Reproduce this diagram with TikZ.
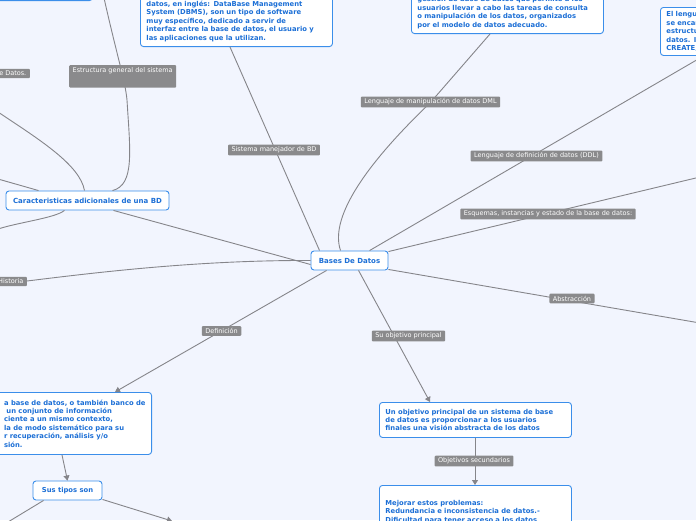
\documentclass[tikz,border=0pt]{standalone}
\usepackage{fontspec}
\setmainfont{DejaVu Sans}
\usetikzlibrary{arrows.meta}
\definecolor{bg}{HTML}{F2F5FE}
\definecolor{bord}{HTML}{3B8EEA}
\definecolor{txt}{HTML}{1C6FD6}
\definecolor{lab}{HTML}{8A8A8C}
\definecolor{ln}{HTML}{85858A}
\tikzset{
  box/.style={draw=bord,line width=0.9pt,fill=white,rounded corners=3pt,text=txt,font=\fontsize{6.8}{8.4}\selectfont\bfseries,align=left,inner xsep=6pt,inner ysep=4pt},
  lbl/.style={fill=lab,text=white,font=\fontsize{6.5}{7.5}\selectfont,inner xsep=3.5pt,inner ysep=2.2pt,rounded corners=1pt},
  con/.style={draw=ln,line width=0.9pt},
  arr/.style={con,-{Triangle[width=6pt,length=5pt]}}
}
\begin{document}
\begin{tikzpicture}[x=1pt,y=-1pt]
\useasboundingbox (0,0) rectangle (696,520);
\fill[bg] (0,0) rectangle (696,520);
\clip (0,0) rectangle (696,520);
\node[box,anchor=south west,text width=180pt,inner ysep=5pt] (dbms) at (140,47) {\mbox{}\\\mbox{}\\datos, en inglés: DataBase Management\\System (DBMS), son un tipo de software\\muy específico, dedicado a servir de\\interfaz entre la base de datos, el usuario y\\las aplicaciones que la utilizan.};
\node[box,anchor=south west,text width=180pt,inner ysep=5pt] (dml) at (411,34) {\mbox{}\\gestión de base de datos que permite a los\\usuarios llevar a cabo las tareas de consulta\\o manipulación de los datos, organizados\\por el modelo de datos adecuado.};
\node[box,anchor=north west,text width=160pt] (ddl) at (660,7) {El lenguaje de definición de datos\\se encarga de la modificación de la\\estructura de los objetos de la base de\\datos. Incluye órdenes para modificar,\\CREATE, ALTER, DROP};
\node[box,anchor=south west,text width=260pt,minimum height=20pt] (tl) at (-180,1) {};
\node[box,font=\fontsize{7}{8}\selectfont\bfseries,minimum width=77pt,minimum height=19pt,align=center] (bd) at (349.5,260.5) {Bases De Datos};
\node[box,font=\fontsize{7}{8}\selectfont\bfseries,minimum width=163pt,minimum height=19pt,align=center] (car) at (87.5,200.5) {Caracteristicas adicionales de una BD};
\node[box,anchor=north east,minimum height=62pt] (def) at (152,392) {\hspace*{80pt}a base de datos, o también banco de\\\hspace*{80pt} un conjunto de información\\\hspace*{80pt}ciente a un mismo contexto,\\\hspace*{80pt}la de modo sistemático para su\\\hspace*{80pt}r recuperación, análisis y/o\\\hspace*{80pt}sión.};
\node[box,minimum width=69pt,minimum height=19pt,align=center] (tipos) at (67.5,490.5) {Sus tipos son};
\node[box,anchor=north west,text width=180pt,minimum height=35pt] (obj) at (379,402) {Un objetivo principal de un sistema de base\\de datos es proporcionar a los usuarios\\finales una visión abstracta de los datos};
\node[box,anchor=north west,text width=180pt,minimum height=60pt] (mej) at (379,485) {Mejorar estos problemas:\\Redundancia e inconsistencia de datos.-\\Dificultad para tener acceso a los datos\\Anomalías del acceso concurrente};
% free ends
\coordinate (eA) at (700,58);
\coordinate (eE) at (700,177);
\coordinate (eB) at (700,323);
\coordinate (eH) at (27,281);
\coordinate (eT1) at (8,522);
\coordinate (eT2) at (172,521);
\coordinate (eS0) at (104,-2);
\coordinate (eC1) at (-2,112);
\coordinate (eC2) at (-2,179);
\coordinate (eC3) at (-2,229);
% connectors
\draw[con] ([xshift=9pt]bd.north west) -- ([xshift=90pt]dbms.south west);
\draw[con] ([xshift=30pt]bd.north west) .. controls (330,220) and (360,170) .. (430,103) -- ([xshift=79pt]dml.south west);
\draw[con] ([xshift=59pt]bd.north west) -- (eA);
\draw[con] ([yshift=-1pt]bd.north east) -- (eE);
\draw[con] ([yshift=1pt]bd.south east) -- (eB);
\draw[con] (bd.west) .. controls (200,260) and (100,272) .. (eH);
\draw[con] ([yshift=-4pt]bd.west) -- ([xshift=26pt]car.south);
\draw[arr] ([xshift=48pt]bd.south west) -- ([xshift=51pt]obj.north west);
\draw[arr] ([xshift=16pt]bd.south west) -- ([xshift=-37pt]def.north east);
\draw[arr] ([xshift=96pt]obj.south west) -- ([xshift=96pt]mej.north west);
\draw[arr] ([xshift=-90pt]def.south east) -- (tipos.north);
\draw[con] ([xshift=11pt]tipos.south west) -- (eT1);
\draw[arr] ([yshift=1pt]tipos.south east) -- (eT2);
\draw[con] (eS0) .. controls (118,60) and (125,80) .. (127,100) .. controls (130,150) and (135,185) .. ([xshift=25pt]car.north);
\draw[con] (eC1) .. controls (40,140) and (80,165) .. ([xshift=-3pt]car.north);
\draw[con] (eC2) -- ([xshift=-49pt]car.north);
\draw[con] ([xshift=-23pt]car.south) .. controls (55,218) and (20,222) .. (eC3);
% labels
\node[lbl,anchor=north west,minimum width=107pt,minimum height=22pt,align=left,text depth=13pt] (est) at (69,65) {Estructura general del sistema};
\node[lbl,anchor=east] (dat) at (30,73.5) {Bases de Datos.};
\node[lbl,anchor=east] (his) at (27,281.5) {Historia};
\node[lbl] (sis) at (274,150) {Sistema manejador de BD};
\node[lbl] (ldml) at (430.5,102) {Lenguaje de manipulación de datos DML};
\node[lbl] (lddl) at (536.5,156) {Lenguaje de definición de datos (DDL)};
\node[lbl] (esq) at (548,214) {Esquemas, instancias y estado de la base de datos:};
\node[lbl] (abs) at (572,298.5) {Abstracción};
\node[lbl] (sob) at (408.5,336) {Su objetivo principal};
\node[lbl] (dfn) at (221.5,331) {Definición};
\node[lbl] (osec) at (474,461) {Objetivos secundarios};
\end{tikzpicture}
\end{document}
